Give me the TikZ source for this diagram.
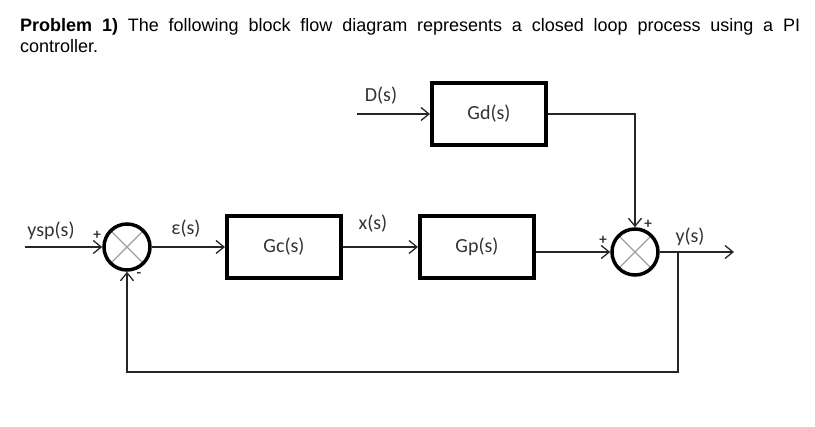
\documentclass[tikz,border=0pt]{standalone}
\usepackage{fontspec}
\setmainfont{Liberation Sans}
\newfontfamily\lblfont{Carlito}
\usetikzlibrary{arrows.meta}
\tikzset{>={Straight Barb[length=8pt,width=13pt]}}
\tikzset{
    blk/.style={draw, line width=4pt, minimum width=114pt, minimum height=62pt,
        font=\lblfont\fontsize{20}{23}\selectfont, text=black!80},
    sumjn/.style={draw, circle, line width=3.5pt, minimum size=46pt, inner sep=0pt,
        path picture={\draw[gray!75, line width=1.2pt]
            (path picture bounding box.north west) -- (path picture bounding box.south east)
            (path picture bounding box.north east) -- (path picture bounding box.south west);}},
    sig/.style={font=\lblfont\fontsize{20}{23}\selectfont, text=black!80, inner sep=0pt},
    sgn/.style={font=\lblfont\bfseries\fontsize{15}{17}\selectfont, text=black!80, inner sep=0pt},
    wire/.style={line width=1.3pt, black!85}
}
\begin{document}
\begin{tikzpicture}[x=1pt,y=-1pt]
    \useasboundingbox (0,0) rectangle (815,427);
    \node[anchor=north west, text width=780pt, align=justify, inner sep=0pt,
        font=\fontsize{18}{21}\selectfont] (title) at (20,18)
        {\textbf{Problem 1)} The following block flow diagram represents a closed loop process using a PI\linebreak controller.};
    % blocks and junctions
    \node[sumjn] (sumA) at (127,247) {};
    \node[blk] (gc) at (284,247) {Gc(s)};
    \node[blk] (gp) at (477,247) {Gp(s)};
    \node[blk] (gd) at (489,114) {Gd(s)};
    \node[sumjn] (sumB) at (635,252) {};
    \coordinate (ysp) at (25,247);
    \coordinate (dist) at (357,114);
    \coordinate (out) at (734,252);
    \coordinate (tap) at (678,252);
    \coordinate (fb) at (678,372);
    % signals
    \draw[wire,->] (ysp) -- (sumA);
    \draw[wire,->] (sumA) -- (gc);
    \draw[wire,->] (gc) -- (gp);
    \draw[wire,->] (gp.east |- sumB) -- (sumB);
    \draw[wire,->] (dist) -- (gd);
    \draw[wire,->] (gd.east) -| (sumB);
    \draw[wire,->] (sumB) -- (out);
    \draw[wire,->] (tap) -- (fb) -| (sumA);
    % labels
    \node[sig] (lysp) at (51,231) {ysp(s)};
    \node[sig] (leps) at (186,229) {ε(s)};
    \node[sig] (lx) at (373,224) {x(s)};
    \node[sig] (ld) at (381,96) {D(s)};
    \node[sig] (ly) at (690,237) {y(s)};
    \node[sgn] (pA) at (97,235) {+};
    \node[sgn] (mA) at (139,275) {-};
    \node[sgn] (pB) at (603,240) {+};
    \node[sgn] (pC) at (648,224) {+};
\end{tikzpicture}
\end{document}
